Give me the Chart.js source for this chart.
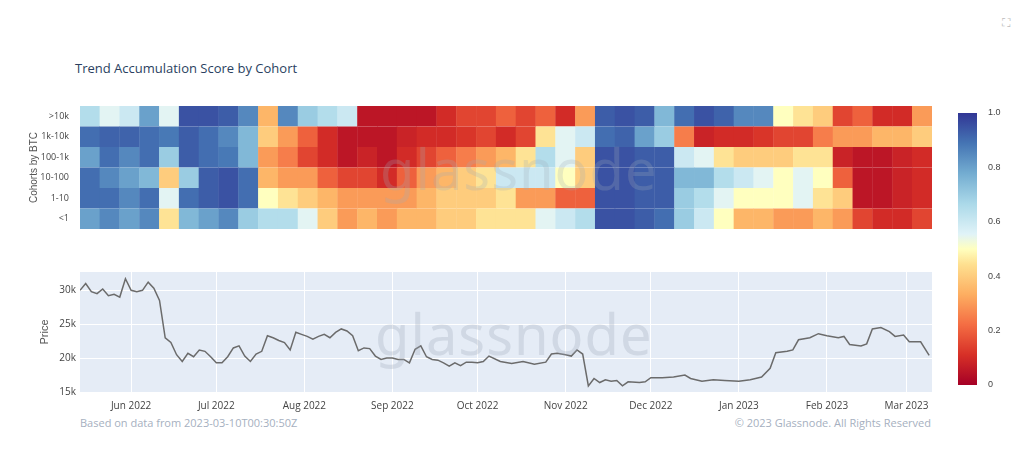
<!DOCTYPE html>
<html><head><meta charset="utf-8">
<script src="https://cdn.jsdelivr.net/npm/chart.js@4"></script>
<style>
body{margin:0;width:1024px;height:450px;background:#fff;font-family:"Open Sans",Arial,sans-serif;position:relative;overflow:hidden}
canvas{position:absolute}
.t{position:absolute;white-space:nowrap}
</style></head><body>
<div class="t" style="left:75px;top:59px;font-size:13px;color:#2a3f5f">Trend Accumulation Score by Cohort</div>
<div class="t" style="left:80px;top:415px;font-size:11px;color:#a6b0c0">Based on data from 2023-03-10T00:30:50Z</div>
<div class="t" style="right:93px;top:415px;font-size:11px;color:#a6b0c0">© 2023 Glassnode. All Rights Reserved</div>
<div class="t" style="left:1002px;top:14px;font-size:12px;color:#bbb">⛶</div>
<canvas id="hm" style="left:0;top:95px" width="950" height="145"></canvas>
<canvas id="pr" style="left:0;top:262px" width="950" height="160"></canvas>
<canvas id="cb" style="left:945px;top:103px" width="60" height="292"></canvas>
<div class="t" style="left:380px;top:130px;font-size:56px;color:rgba(160,170,185,0.25);font-family:'Noto Sans',sans-serif;letter-spacing:1px">glassnode</div>
<div class="t" style="left:375px;top:295px;font-size:56px;color:rgba(160,170,185,0.3);font-family:'Noto Sans',sans-serif;letter-spacing:1px">glassnode</div>
<script>
const cohorts = ["<1","1-10","10-100","100-1k","1k-10k",">10k"];
const startDate = "2022-05-14";
const totalDays = 300;
// weekly columns, starting 2022-05-14
const scoreGt10k = [0.65,0.55,0.6,0.8,0.55,0.95,0.95,0.93,0.85,0.35,0.85,0.7,0.65,0.6,0.05,0.05,0.05,0.05,0.1,0.15,0.15,0.2,0.15,0.2,0.1,0.3,0.93,0.95,0.93,0.75,0.9,0.95,0.92,0.85,0.85,0.5,0.45,0.4,0.15,0.2,0.1,0.1,0.3];
const score1k10k = [0.9,0.92,0.92,0.9,0.88,0.93,0.9,0.85,0.75,0.4,0.3,0.2,0.1,0.05,0.05,0.05,0.08,0.1,0.1,0.12,0.15,0.1,0.15,0.45,0.55,0.6,0.9,0.92,0.8,0.7,0.25,0.08,0.1,0.1,0.12,0.15,0.15,0.25,0.3,0.3,0.35,0.35,0.4];
const score100_1k = [0.8,0.9,0.85,0.9,0.7,0.93,0.9,0.88,0.75,0.3,0.25,0.15,0.1,0.05,0.08,0.05,0.1,0.15,0.2,0.25,0.3,0.35,0.45,0.65,0.55,0.4,0.95,0.95,0.93,0.93,0.6,0.55,0.45,0.4,0.4,0.4,0.45,0.45,0.08,0.05,0.05,0.08,0.1];
const score10_100 = [0.9,0.85,0.8,0.75,0.4,0.7,0.93,0.95,0.9,0.35,0.3,0.3,0.2,0.15,0.15,0.1,0.2,0.3,0.35,0.4,0.45,0.6,0.6,0.6,0.5,0.4,0.95,0.95,0.93,0.93,0.75,0.75,0.65,0.6,0.55,0.5,0.55,0.5,0.2,0.05,0.05,0.08,0.1];
const score1_10 = [0.9,0.9,0.85,0.9,0.55,0.9,0.93,0.95,0.9,0.5,0.45,0.4,0.35,0.3,0.3,0.3,0.3,0.35,0.4,0.4,0.4,0.45,0.3,0.3,0.2,0.2,0.95,0.95,0.93,0.93,0.7,0.65,0.55,0.5,0.5,0.5,0.55,0.45,0.4,0.05,0.05,0.08,0.1];
const scoreLt1 = [0.8,0.85,0.8,0.85,0.45,0.75,0.8,0.85,0.7,0.65,0.65,0.55,0.4,0.3,0.35,0.3,0.35,0.35,0.4,0.4,0.45,0.45,0.45,0.55,0.6,0.65,0.95,0.95,0.93,0.9,0.7,0.6,0.5,0.35,0.35,0.3,0.3,0.35,0.3,0.15,0.1,0.1,0.15];
const priceDates = ["2022-05-14","2022-05-16","2022-05-18","2022-05-20","2022-05-22","2022-05-24","2022-05-26","2022-05-28","2022-05-30","2022-06-01","2022-06-03","2022-06-05","2022-06-07","2022-06-09","2022-06-11","2022-06-13","2022-06-15","2022-06-17","2022-06-19","2022-06-21","2022-06-23","2022-06-25","2022-06-27","2022-06-29","2022-07-01","2022-07-03","2022-07-05","2022-07-07","2022-07-09","2022-07-11","2022-07-13","2022-07-15","2022-07-17","2022-07-19","2022-07-21","2022-07-23","2022-07-25","2022-07-27","2022-07-29","2022-07-31","2022-08-02","2022-08-04","2022-08-06","2022-08-08","2022-08-10","2022-08-12","2022-08-14","2022-08-16","2022-08-18","2022-08-20","2022-08-22","2022-08-24","2022-08-26","2022-08-28","2022-08-30","2022-09-01","2022-09-03","2022-09-05","2022-09-07","2022-09-09","2022-09-11","2022-09-13","2022-09-15","2022-09-17","2022-09-19","2022-09-21","2022-09-23","2022-09-25","2022-09-27","2022-09-29","2022-10-01","2022-10-03","2022-10-05","2022-10-09","2022-10-13","2022-10-17","2022-10-21","2022-10-25","2022-10-27","2022-10-29","2022-11-01","2022-11-03","2022-11-05","2022-11-07","2022-11-09","2022-11-11","2022-11-13","2022-11-15","2022-11-17","2022-11-19","2022-11-21","2022-11-23","2022-11-27","2022-11-29","2022-12-01","2022-12-05","2022-12-09","2022-12-13","2022-12-15","2022-12-19","2022-12-23","2022-12-27","2023-01-01","2023-01-05","2023-01-09","2023-01-12","2023-01-14","2023-01-18","2023-01-20","2023-01-22","2023-01-26","2023-01-29","2023-02-01","2023-02-05","2023-02-07","2023-02-09","2023-02-13","2023-02-15","2023-02-17","2023-02-20","2023-02-23","2023-02-25","2023-02-28","2023-03-02","2023-03-06","2023-03-09"];
const priceValues = [30000,31000,29800,29500,30200,29200,29400,29000,31700,30000,29800,30000,31200,30300,28500,23000,22300,20500,19500,20700,20200,21200,21000,20200,19300,19300,20200,21500,21800,20300,19500,20600,21000,23300,23000,22600,22300,21200,23800,23500,23200,22800,23200,23500,23000,23800,24300,24000,23300,21100,21500,21400,20300,19800,20000,20000,19800,19800,19300,21300,21800,20200,19800,19700,19300,18800,19300,18900,19400,19400,19300,19500,20300,19500,19200,19500,19100,19400,20600,20700,20500,20300,21200,20600,15900,17000,16400,16800,16600,16700,15900,16500,16400,16500,17100,17100,17200,17500,17000,16600,16800,16700,16600,16800,17200,18500,20800,21000,21200,22700,23000,23600,23300,23000,23200,22000,21800,22100,24300,24500,23900,23200,23400,22400,22400,20400];
const monthTicks = ["2022-06-01","2022-07-01","2022-08-01","2022-09-01","2022-10-01","2022-11-01","2022-12-01","2023-01-01","2023-02-01","2023-03-01"];
const priceTicks = [15000,20000,25000,30000];
const colorbarTicks = [0,0.2,0.4,0.6,0.8,1];

const MONTHS=["Jan","Feb","Mar","Apr","May","Jun","Jul","Aug","Sep","Oct","Nov","Dec"];
const dayOf = s => (Date.parse(s)-Date.parse(startDate))/86400000;
const stops=[[0,'#a50026'],[0.111,'#d73027'],[0.222,'#f46d43'],[0.333,'#fdae61'],[0.444,'#fee090'],[0.5,'#ffffbf'],[0.555,'#e0f3f8'],[0.666,'#abd9e9'],[0.777,'#74add1'],[0.888,'#4575b4'],[1,'#313695']];
function hex(h){return [1,3,5].map(i=>parseInt(h.substr(i,2),16));}
function cmap(v){v=Math.max(0,Math.min(1,v));for(let i=1;i<stops.length;i++){if(v<=stops[i][0]){const a=stops[i-1],b=stops[i],t=(v-a[0])/(b[0]-a[0]);const ca=hex(a[1]),cb=hex(b[1]);return 'rgb('+ca.map((c,k)=>Math.round(c+(cb[k]-c)*t)).join(',')+')';}}return stops[stops.length-1][1];}
const fixW = w => ax => { ax.width = w; };
const tickFont={family:'"Open Sans",Arial,sans-serif',size:10};

const rows=[scoreLt1,score1_10,score10_100,score100_1k,score1k10k,scoreGt10k];
const cols=scoreLt1.map((_,i)=>i);
new Chart(document.getElementById('hm'),{type:'bar',
 data:{labels:cols,datasets:rows.map((r,k)=>({label:cohorts[k],data:r.map(()=>1),backgroundColor:r.map(cmap),borderWidth:0,categoryPercentage:1,barPercentage:1.02}))},
 options:{responsive:false,animation:false,layout:{padding:{top:11,right:18,bottom:11,left:28}},
  plugins:{legend:{display:false},tooltip:{enabled:false}},
  scales:{x:{stacked:true,display:false,offset:true},
   y:{stacked:true,min:0,max:6,afterFit:fixW(52),grid:{display:false},border:{display:false},
    afterBuildTicks:ax=>{ax.ticks=cohorts.map((_,i)=>({value:i+0.5}));},
    ticks:{font:{family:tickFont.family,size:9},color:'#444',padding:3,callback:(v)=>cohorts[Math.floor(v)]},
    title:{display:true,text:'Cohorts by BTC',font:{size:10},color:'#555',padding:0}}}}});

const bgPlugin={id:'bg',beforeDraw(c){const a=c.chartArea,x=c.ctx;x.save();x.fillStyle='#e5ecf6';x.fillRect(a.left,a.top,a.right-a.left,a.bottom-a.top);x.restore();}};
new Chart(document.getElementById('pr'),{type:'line',
 data:{datasets:[{data:priceDates.map((d,i)=>({x:dayOf(d),y:priceValues[i]})),borderColor:'#6b6b6b',borderWidth:1.5,pointRadius:0,tension:0}]},
 plugins:[bgPlugin],
 options:{responsive:false,animation:false,layout:{padding:{top:10,right:18,left:38}},
  plugins:{legend:{display:false},tooltip:{enabled:false}},
  scales:{x:{type:'linear',min:0,max:totalDays,afterFit:ax=>{ax.height=30;},
    afterBuildTicks:ax=>{ax.ticks=monthTicks.map(d=>({value:dayOf(d)}));},
    grid:{color:'#fff',drawTicks:false},border:{display:false},
    ticks:{font:tickFont,color:'#444',padding:8,maxRotation:0,autoSkip:false,callback:v=>{const d=new Date(Date.parse(startDate)+v*86400000+43200000);return MONTHS[d.getUTCMonth()]+' '+d.getUTCFullYear();}}},
   y:{min:15000,max:32700,afterFit:fixW(42),afterBuildTicks:ax=>{ax.ticks=priceTicks.map(v=>({value:v}));},
    grid:{color:'#fff',drawTicks:false},border:{display:false},
    ticks:{font:tickFont,color:'#444',padding:4,callback:v=>(v/1000)+'k'},
    title:{display:true,text:'Price',font:{size:11},color:'#555',padding:0}}}}});

new Chart(document.getElementById('cb'),{type:'bar',
 data:{labels:['c'],datasets:[{data:[[0,1]],borderWidth:0,categoryPercentage:1,barPercentage:1,
  backgroundColor:(ctx)=>{const c=ctx.chart,a=c.chartArea;if(!a)return '#fff';const g=c.ctx.createLinearGradient(0,a.bottom,0,a.top);stops.forEach(s=>g.addColorStop(s[0],s[1]));return g;}}]},
 options:{responsive:false,animation:false,layout:{padding:{top:10,bottom:10,left:13,right:0}},
  plugins:{legend:{display:false},tooltip:{enabled:false}},
  scales:{x:{display:false},y:{position:'right',min:0,max:1,afterFit:fixW(28),afterBuildTicks:ax=>{ax.ticks=colorbarTicks.map(v=>({value:v}));},
   grid:{display:false},border:{display:false},ticks:{font:{size:9},color:'#444',padding:3}}}}});
</script></body></html>
